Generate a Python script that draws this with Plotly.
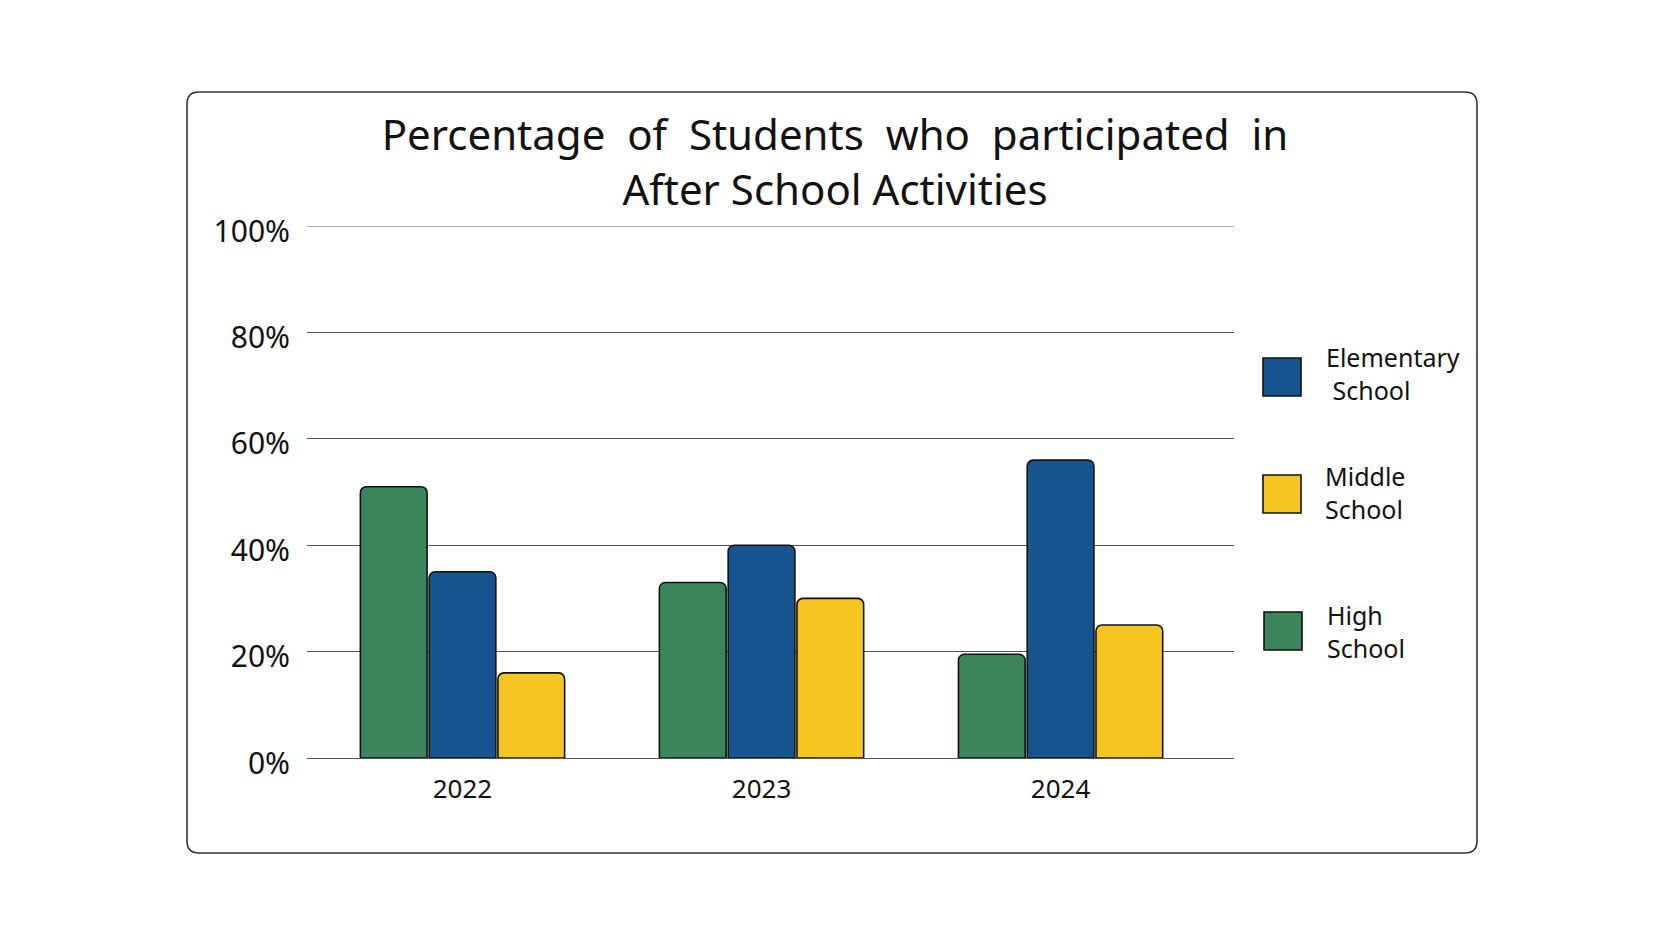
import plotly.graph_objects as go

years = ["2022", "2023", "2024"]
high_school = [51, 33, 19.5]
elementary = [35, 40, 56]
middle_school = [16, 30, 25]
series_names = ["High School", "Elementary School", "Middle School"]
legend_labels = ["Elementary<br>\u00a0School", "Middle<br>School", "High<br>School"]
y_ticks = [0, 20, 40, 60, 80, 100]
y_tick_text = [f"{v}%" for v in y_ticks]

GREEN = "#3A855A"
BLUE = "#16548F"
YELLOW = "#F4C61F"
FONT = "Noto Sans"

W, H = 1670, 940
L, R, T, B = 307, 1234, 226, 758


def px(x):
    return (x - L) / (R - L)


def py(y):
    return (B - y) / (B - T)


fig = go.Figure()
for name, vals, col in [(series_names[0], high_school, GREEN),
                        (series_names[1], elementary, BLUE),
                        (series_names[2], middle_school, YELLOW)]:
    fig.add_trace(go.Bar(
        x=years, y=vals, name=name, showlegend=False,
        marker=dict(color=col, line=dict(color="#111111", width=1.6), cornerradius=6),
        hoverinfo="x+y+name",
    ))

# outer rounded frame
x0, x1, y0, y1, r = 187, 1477, 92, 853, 12
path = (f"M {px(x0+r)},{py(y0)} L {px(x1-r)},{py(y0)} Q {px(x1)},{py(y0)} {px(x1)},{py(y0+r)} "
        f"L {px(x1)},{py(y1-r)} Q {px(x1)},{py(y1)} {px(x1-r)},{py(y1)} "
        f"L {px(x0+r)},{py(y1)} Q {px(x0)},{py(y1)} {px(x0)},{py(y1-r)} "
        f"L {px(x0)},{py(y0+r)} Q {px(x0)},{py(y0)} {px(x0+r)},{py(y0)} Z")
shapes = [dict(type="path", xref="paper", yref="paper", path=path,
               line=dict(color="#333333", width=1.6), layer="below"),
          # top gridline (at the edge of the range)
          dict(type="line", xref="paper", yref="y", x0=0, x1=1,
               y0=y_ticks[-1], y1=y_ticks[-1], line=dict(color="#555555", width=1.2),
               layer="below")]

# custom legend
legend_cols = [BLUE, YELLOW, GREEN]
legend_boxes = [(1263, 358), (1263, 475), (1264, 612)]
legend_text_y = [373, 492, 631]
legend_text_x = [1324, 1323, 1325]
annotations = []
for lab, col, (bx, by), ty, tx in zip(legend_labels, legend_cols, legend_boxes,
                                      legend_text_y, legend_text_x):
    shapes.append(dict(type="rect", xref="paper", yref="paper",
                       x0=px(bx), x1=px(bx + 38), y0=py(by), y1=py(by + 38),
                       fillcolor=col, line=dict(color="#111111", width=1.6)))
    annotations.append(dict(xref="paper", yref="paper", x=px(tx), y=py(ty),
                            text=lab, showarrow=False, xanchor="left", yanchor="middle",
                            align="left", font=dict(family=FONT, size=25, color="#111111")))

fig.update_layout(
    width=W, height=H,
    margin=dict(l=L, r=W - R, t=T, b=H - B),
    paper_bgcolor="white", plot_bgcolor="white",
    title=dict(text="Percentage  of  Students  who  participated  in<br>After School Activities",
               x=0.5, xref="container", xanchor="center",
               y=1 - 150 / H, yref="container", yanchor="top",
               font=dict(family=FONT, size=42, color="#111111")),
    barmode="group", bargap=0.31, bargroupgap=0.03,
    xaxis=dict(range=[-0.52, 2.58], showgrid=False, showline=False, zeroline=False,
               tickfont=dict(family=FONT, size=26, color="#111111"), ticklabelstandoff=13),
    yaxis=dict(range=[0, 100], tickvals=y_ticks, ticktext=y_tick_text,
               showgrid=True, gridcolor="#555555", gridwidth=1.2,
               zeroline=True, zerolinecolor="#555555", zerolinewidth=1.2, showline=False,
               tickfont=dict(family=FONT, size=30, color="#111111"),
               ticklabelstandoff=16, ticklabelshift=5),
    shapes=shapes, annotations=annotations,
    font=dict(family=FONT),
)

fig.write_html("out.html")
